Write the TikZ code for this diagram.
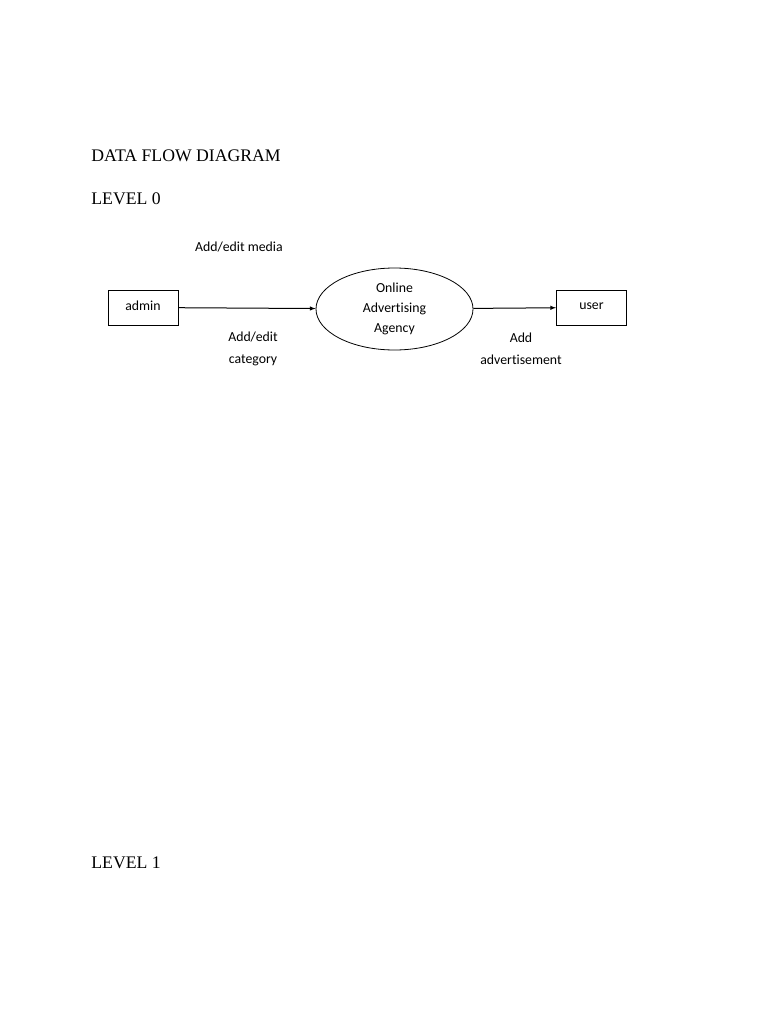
\documentclass[tikz,border=0pt]{standalone}
\usepackage{fontspec}
\setmainfont{Liberation Serif}
\newfontfamily\dfdfont[Ligatures=NoCommon]{Carlito}
\usetikzlibrary{shapes.geometric, arrows}
\usetikzlibrary{positioning}
\tikzstyle{entity} = [rectangle, minimum width=70pt, minimum height=35pt, draw=black, font=\dfdfont\fontsize{13.8}{20}\selectfont]
\tikzstyle{process} = [ellipse, minimum width=157pt, minimum height=82pt, inner sep=0pt, align=center, draw=black, font=\dfdfont\fontsize{13.8}{20}\selectfont]
\tikzstyle{flow} = [align=center, font=\dfdfont\fontsize{13.8}{22}\selectfont]
\tikzstyle{heading} = [anchor=base west, inner sep=0pt, font=\fontsize{17.7}{20}\selectfont]
\tikzstyle{arrow} = [->,>=latex, line width=1pt]

\begin{document}
\begin{tikzpicture}[x=1pt, y=-1pt, line width=0.8pt]
                    \useasboundingbox (0, 0) rectangle (768, 1024);
                    \node [heading] (title) at (91, 162) {DATA FLOW DIAGRAM};
                    \node [heading] (level0) at (91, 205) {LEVEL 0};
                    \node [heading] (level1) at (91, 868) {LEVEL 1};
                    \node [entity] (admin) at (143, 307.5) {\raisebox{3pt}{admin}};
                    \node [process] (agency) at (394.5, 309) {Online\\Advertising\\Agency};
                    \node [entity] (user) at (591.5, 307.5) {\raisebox{3pt}{user}};
                    \draw [arrow] (admin) -- (agency);
                    \draw [arrow] (agency) -- (user);
                    \node [flow] (media) at (239, 247) {Add/edit media};
                    \node [flow] (category) at (253, 349) {Add/edit\\category};
                    \node [flow] (advert) at (521, 349) {Add\\advertisement};
                \end{tikzpicture}
\end{document}
